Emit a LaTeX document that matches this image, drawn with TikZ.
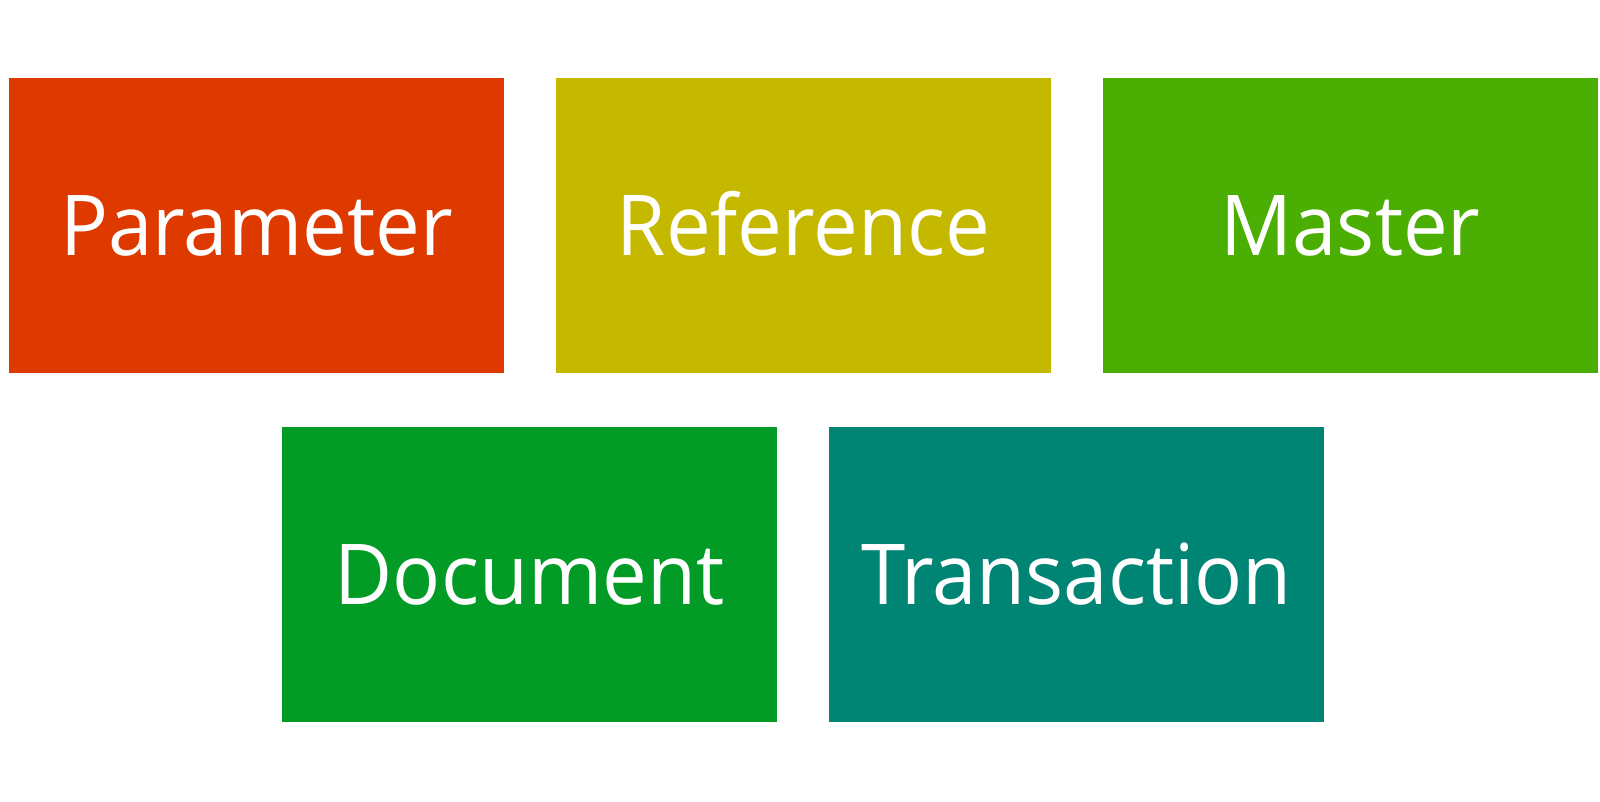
\documentclass[tikz,border=0pt]{standalone}
\usepackage{fontspec}
\setmainfont{Open Sans}[FakeStretch=0.95]
\definecolor{cpar}{HTML}{DE3A00}
\definecolor{cref}{HTML}{C5B900}
\definecolor{cmas}{HTML}{4BAE02}
\definecolor{cdoc}{HTML}{019B25}
\definecolor{ctra}{HTML}{008473}
\begin{document}
\begin{tikzpicture}
[x=1pt, y=1pt, font=\fontsize{84}{92}\selectfont, line join=round,
 tile/.style={minimum width=495pt, minimum height=295pt, inner sep=0pt,
   text=white, text height=60pt, text depth=0pt}]
\useasboundingbox (0,0) rectangle (1600,802);
\foreach \x/\y/\c/\n/\t in {256.5/576/cpar/par/Parameter,
  803.5/576/cref/ref/Reference, 1350.5/576/cmas/mas/Master,
  529.5/227/cdoc/doc/Document, 1076.5/227/ctra/tra/Transaction}
\node[tile, fill=\c] (\n) at (\x,\y) {\t};
\end{tikzpicture}
\end{document}
